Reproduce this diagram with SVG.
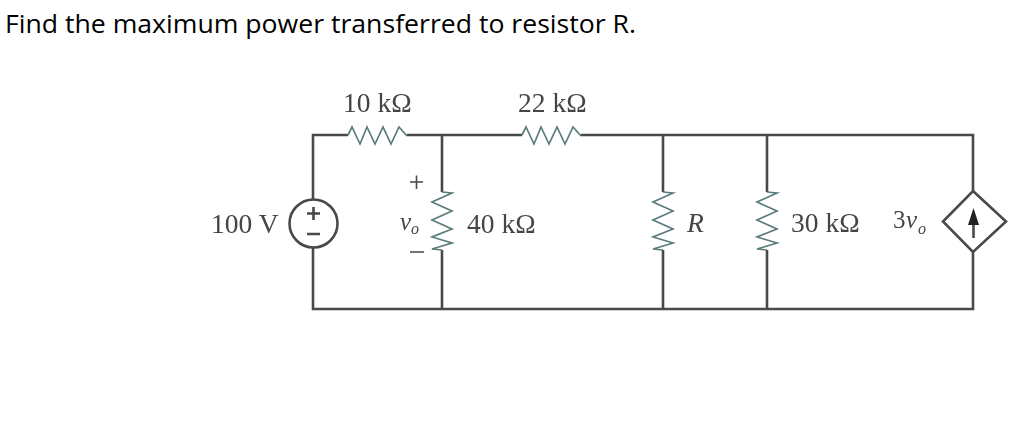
<svg xmlns="http://www.w3.org/2000/svg" width="1024" height="431" viewBox="0 0 1024 431">
<style>
.w{fill:none;stroke:#484848;stroke-width:2.6}
.r{fill:none;stroke:#5a7c7c;stroke-width:1.7;stroke-linejoin:miter}
.t{font-family:"Liberation Serif",serif;font-size:27.500px;fill:#444}
.i{font-style:italic}
.v{font-size:25px}
.s{font-size:16px}
.thin{stroke-width:1.6}
.title{font-family:"Open Sans","Noto Sans",sans-serif;font-size:25px;fill:#000}
</style>
<defs>
<path id="rh" class="r" d="M0 0L4 -8L12 9L19 -8L27 9L35 -8L43 9L51 -8L59 1"/>
<path id="rv" class="r" d="M0 0L10 1L-10 10L10 19L-10 28L10 37L-10 45L10 51L-10 57L0 58"/>
<filter id="soft" x="-5%" y="-5%" width="110%" height="110%"><feGaussianBlur stdDeviation="0.45"/></filter>
</defs>
<rect width="1024" height="431" fill="#fff"/>
<text class="title" x="5" y="33" textLength="631" lengthAdjust="spacingAndGlyphs">Find the maximum power transferred to resistor R.</text>
<g filter="url(#soft)">
<g id="connectors">
<path class="w" d="M313 200V135H348M407 135H522M581 135H973V191M973 252V309H313V247"/>
<path class="w" d="M442 135V192M442 250V309M663 135V192M663 250V309M767 135V192M767 250V309"/>
</g>
<g id="source-100v">
<circle class="w" cx="313.500" cy="223.500" r="24"/>
<path class="w" d="M307 213.500H320M313.500 207V220M307 234H320"/>
<text class="t" x="211" y="233">100 V</text>
</g>
<g id="r-10k"><use href="#rh" x="348" y="135"/><text class="t" x="343" y="112">10 kΩ</text></g>
<g id="r-22k"><use href="#rh" x="522" y="135"/><text class="t" x="518" y="112">22 kΩ</text></g>
<g id="r-40k"><use href="#rv" x="442" y="192"/><text class="t" x="467" y="233">40 kΩ</text></g>
<g id="r-R"><use href="#rv" x="663" y="192"/><text class="t i" x="687" y="232">R</text></g>
<g id="r-30k"><use href="#rv" x="767" y="192"/><text class="t" x="791" y="232">30 kΩ</text></g>
<g id="vo-label">
<path class="w thin" d="M410 182H423M416.500 175.500V189M410 252H424"/>
<text class="t i v" x="400" y="230">v</text>
<text class="t i s" x="411" y="234">o</text>
</g>
<g id="source-3vo">
<path class="w" d="M973 191L1006 221.500L973 252L943 221.500Z"/>
<path class="w" d="M973.500 238V216"/>
<path d="M973.500 208L979 225H968Z" fill="#222"/>
<text class="t v" x="893" y="228">3</text>
<text class="t i v" x="906" y="228">v</text>
<text class="t i s" x="918" y="234">o</text>
</g>
</g>
</svg>
